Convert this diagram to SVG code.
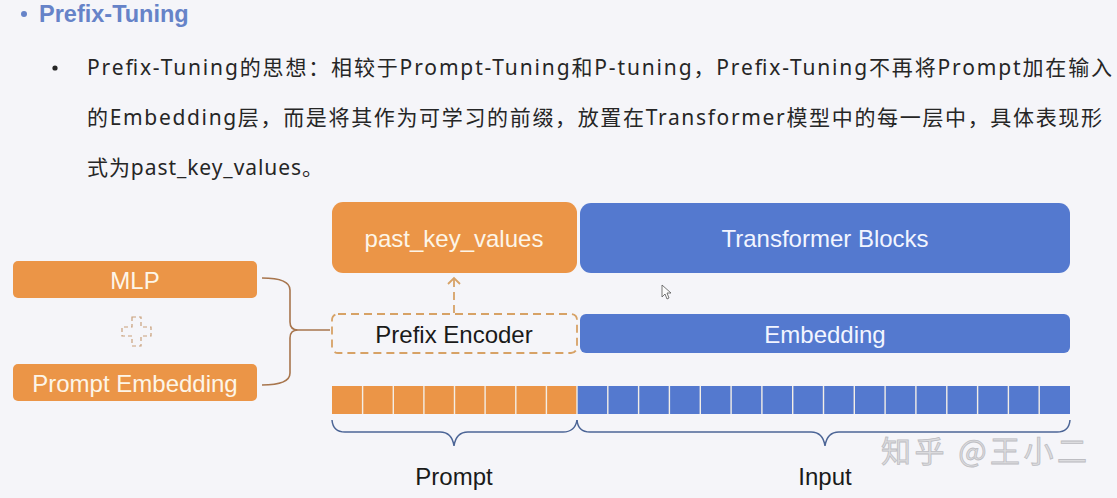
<svg xmlns="http://www.w3.org/2000/svg" width="1117" height="498" viewBox="0 0 1117 498">
<defs>
<style>
.bg{fill:#f5f5f9}
.title{font-family:"Liberation Sans",Arial,sans-serif;font-weight:bold;font-size:23.5px;fill:#6683c8}
.body{font-family:"Noto Sans","Noto Sans CJK SC",sans-serif;font-size:21px;fill:#262626}
.lbl{font-family:"Liberation Sans",Arial,sans-serif;font-size:24px;text-anchor:middle;dominant-baseline:central}
.org{fill:#eb9547}
.blu{fill:#5479cf}
.wt{fill:#fdf5e8}
.bt{fill:#f2f5ff}
.dk{fill:#1a1a1a}
.sep{stroke:#f3eee6;stroke-width:1.4}
.brace{fill:none;stroke:#4c6596;stroke-width:1.5}
.obrace{fill:none;stroke:#a8764e;stroke-width:1.6}
.dash{fill:none;stroke:#d7a266;stroke-width:1.8;stroke-dasharray:8 5}
</style>
</defs>
<rect class="bg" x="0" y="0" width="1117" height="498"/>

<g id="header">
<circle cx="24" cy="14" r="3" fill="#6683c8"/>
<text class="title" x="39" y="22">Prefix-Tuning</text>
<circle cx="55" cy="68" r="2.6" fill="#262626"/>
<text class="body" x="87" y="75" textLength="1025" lengthAdjust="spacing">Prefix-Tuning的思想：相较于Prompt-Tuning和P-tuning，Prefix-Tuning不再将Prompt加在输入</text>
<text class="body" x="87" y="125" textLength="1015" lengthAdjust="spacing">的Embedding层，而是将其作为可学习的前缀，放置在Transformer模型中的每一层中，具体表现形</text>
<text class="body" x="87" y="175" textLength="236" lengthAdjust="spacing">式为past_key_values。</text>
</g>

<g id="mlp">
<rect class="org" x="13" y="261" width="244" height="37" rx="5"/>
<text class="lbl wt" x="135" y="280">MLP</text>
</g>
<g id="plus">
<path class="dash" style="stroke-width:1.2;stroke-dasharray:4 3;stroke:#c9a07a" d="M132,317 h9 v10 h10 v9 h-10 v10 h-9 v-10 h-10 v-9 h10 z"/>
</g>
<g id="prompt-embedding">
<rect class="org" x="13" y="364" width="244" height="37" rx="5"/>
<text class="lbl wt" x="135" y="383">Prompt Embedding</text>
</g>

<g id="past-key-values">
<rect class="org" x="332" y="202" width="245" height="71" rx="11"/>
<text class="lbl wt" x="454" y="238">past_key_values</text>
</g>
<g id="transformer-blocks">
<rect class="blu" x="580" y="203" width="490" height="70" rx="11"/>
<text class="lbl bt" x="825" y="238">Transformer Blocks</text>
</g>
<g id="prefix-encoder">
<rect class="dash" x="332" y="314" width="245" height="39" rx="6"/>
<text class="lbl dk" x="454" y="334">Prefix Encoder</text>
</g>
<g id="embedding">
<rect class="blu" x="580" y="314" width="490" height="39" rx="6"/>
<text class="lbl bt" x="825" y="334">Embedding</text>
</g>

<g id="tokens">
<rect class="org" x="332" y="386" width="245" height="28"/>
<rect class="blu" x="577" y="386" width="493" height="28"/>
<g class="sep">
<line x1="362.6" y1="386" x2="362.6" y2="414"/>
<line x1="393.3" y1="386" x2="393.3" y2="414"/>
<line x1="423.9" y1="386" x2="423.9" y2="414"/>
<line x1="454.5" y1="386" x2="454.5" y2="414"/>
<line x1="485.1" y1="386" x2="485.1" y2="414"/>
<line x1="515.8" y1="386" x2="515.8" y2="414"/>
<line x1="546.4" y1="386" x2="546.4" y2="414"/>
<line x1="577" y1="386" x2="577" y2="414"/>
<line x1="607.8" y1="386" x2="607.8" y2="414"/>
<line x1="638.6" y1="386" x2="638.6" y2="414"/>
<line x1="669.4" y1="386" x2="669.4" y2="414"/>
<line x1="700.3" y1="386" x2="700.3" y2="414"/>
<line x1="731.1" y1="386" x2="731.1" y2="414"/>
<line x1="761.9" y1="386" x2="761.9" y2="414"/>
<line x1="792.7" y1="386" x2="792.7" y2="414"/>
<line x1="823.5" y1="386" x2="823.5" y2="414"/>
<line x1="854.3" y1="386" x2="854.3" y2="414"/>
<line x1="885.1" y1="386" x2="885.1" y2="414"/>
<line x1="915.9" y1="386" x2="915.9" y2="414"/>
<line x1="946.8" y1="386" x2="946.8" y2="414"/>
<line x1="977.6" y1="386" x2="977.6" y2="414"/>
<line x1="1008.4" y1="386" x2="1008.4" y2="414"/>
<line x1="1039.2" y1="386" x2="1039.2" y2="414"/>
</g>
</g>

<g id="labels">
<text class="lbl dk" x="454" y="476">Prompt</text>
<text class="lbl dk" x="825" y="476">Input</text>
</g>

<g id="connectors">
<path class="dash" d="M454,313 L454,279"/>
<path fill="none" stroke="#d7a266" stroke-width="1.8" d="M448,284 L454,278 L460,284"/>
<path class="obrace" d="M262,278 Q290,278 290,290 L290,322 Q290,330 298,330 L330,330 M298,330 Q290,330 290,338 L290,373 Q290,385 262,385"/>
<path class="brace" d="M332,420 Q333,432 345,432 L440,432 Q452,432 454,446 Q456,432 468,432 L563,432 Q575,432 577,420"/>
<path class="brace" d="M577,420 Q578,432 590,432 L811,432 Q823,432 825,446 Q827,432 839,432 L1057,432 Q1069,432 1070,420"/>
</g>

<g id="cursor">
<path d="M662,285 L662,297 L665,294 L667,299 L669,298 L667,293 L671,293 Z" fill="#fafafa" stroke="#555" stroke-width="0.8"/>
</g>

<g id="watermark">
<text x="881" y="462" style="font-family:'Noto Sans CJK SC',sans-serif;font-size:30px;fill:#dcdcdf;stroke:#bdbdc2;stroke-width:0.8" textLength="206" lengthAdjust="spacing">知乎 @王小二</text>
</g>
</svg>
